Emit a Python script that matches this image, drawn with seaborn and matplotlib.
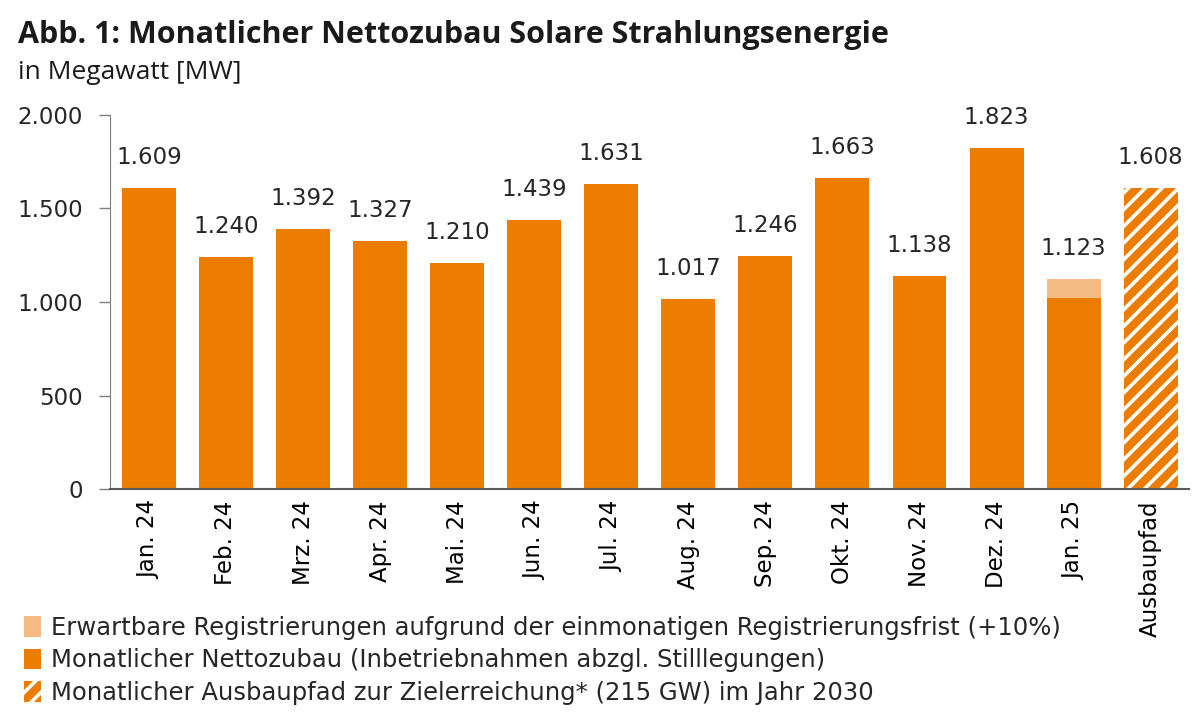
import numpy as np
import pandas as pd
import matplotlib
matplotlib.use('Agg')
import matplotlib.pyplot as plt
import seaborn as sns
from matplotlib.patches import Patch

# Werte aus der Grafik (MW)
monate = ['Jan. 24', 'Feb. 24', 'Mrz. 24', 'Apr. 24', 'Mai. 24', 'Jun. 24', 'Jul. 24',
          'Aug. 24', 'Sep. 24', 'Okt. 24', 'Nov. 24', 'Dez. 24', 'Jan. 25', 'Ausbaupfad']
gesamt = [1609, 1240, 1392, 1327, 1210, 1439, 1631, 1017, 1246, 1663, 1138, 1823, 1123, 1608]
# Jan. 25 ohne die erwartbaren Nachmeldungen (+10%)
netto = [1609, 1240, 1392, 1327, 1210, 1439, 1631, 1017, 1246, 1663, 1138, 1823, 1021, 1608]
yticks = [0, 500, 1000, 1500, 2000]
ytick_labels = ['0', '500', '1.000', '1.500', '2.000']
legende = ['Erwartbare Registrierungen aufgrund der einmonatigen Registrierungsfrist (+10%)',
           'Monatlicher Nettozubau (Inbetriebnahmen abzgl. Stilllegungen)',
           'Monatlicher Ausbaupfad zur Zielerreichung* (215 GW) im Jahr 2030']

orange = '#EC7D00'
hell = '#F4BC84'
grau = '#7f7f7f'

df = pd.DataFrame({'monat': monate, 'gesamt': gesamt, 'netto': netto})

sns.set_style('white')
plt.rcParams['font.family'] = ['DejaVu Sans']
plt.rcParams['hatch.linewidth'] = 2.6
plt.rcParams['hatch.color'] = 'white'

fig = plt.figure(figsize=(12, 7.26), dpi=100)
ax = fig.add_axes([0.092, 0.326, 0.899, 0.516])

# hellere Balken (gesamt) hinten, Nettozubau davor
sns.barplot(data=df, x='monat', y='gesamt', color=hell, saturation=1, width=0.7,
            linewidth=0, ax=ax)
sns.barplot(data=df, x='monat', y='netto', color=orange, saturation=1, width=0.7,
            linewidth=0, ax=ax)

# Ausbaupfad schraffiert
n = len(monate)
for p in [ax.patches[n - 1], ax.patches[2 * n - 1]]:
    p.set_hatch('//')
    p.set_edgecolor('white')
    p.set_linewidth(0)

# Werte über den Balken
for i, v in enumerate(gesamt):
    ax.text(i, v + 100, f'{v:,}'.replace(',', '.'), ha='center', va='bottom',
            fontsize=16.5, color='#262626')

ax.set_xlim(-0.5, n - 0.5)
ax.set_ylim(0, 2000)
ax.set_yticks(yticks)
ax.set_yticklabels(ytick_labels, fontsize=16.5, color='#262626')
ax.set_xticks(range(n))
ax.set_xticklabels(monate, rotation=90, fontsize=16.5, color='#000000')
ax.set_xlabel('')
ax.set_ylabel('')
ax.tick_params(axis='y', length=8, width=1, color=grau, left=True, pad=12)
ax.tick_params(axis='x', length=0, pad=8)
sns.despine(ax=ax)
ax.spines['left'].set_color(grau)
ax.spines['bottom'].set_color('#595959')
ax.spines['bottom'].set_linewidth(1.5)

# Titel
fig.text(0.015, 0.952, 'Abb. 1: Monatlicher Nettozubau Solare Strahlungsenergie',
         fontsize=22, fontweight='bold', family='Open Sans', va='center', color='#1a1a1a')
fig.text(0.015, 0.9, 'in Megawatt [MW]', fontsize=19, family='Open Sans', va='center',
         color='#1a1a1a')

# Legende
handles = [Patch(facecolor=hell, edgecolor='none'),
           Patch(facecolor=orange, edgecolor='none'),
           Patch(facecolor=orange, edgecolor='white', hatch='//', linewidth=0)]
fig.legend(handles, legende, loc='upper left', bbox_to_anchor=(0.012, 0.165),
           frameon=False, handlelength=0.7, handleheight=0.9,
           handletextpad=0.4, labelspacing=0.35, borderaxespad=0,
           prop={'family': 'DejaVu Sans', 'size': 17.5})

fig.savefig('out.png', dpi=100)
